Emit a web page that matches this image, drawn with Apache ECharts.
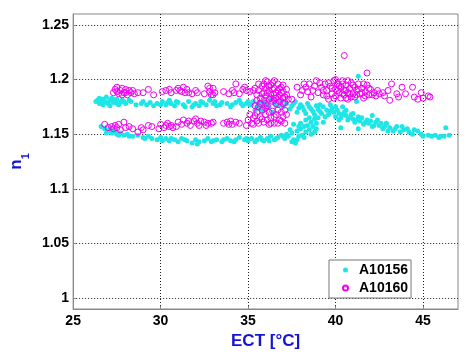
<!DOCTYPE html>
<html><head><meta charset="utf-8">
<script src="https://cdn.jsdelivr.net/npm/echarts@6/dist/echarts.min.js"></script>
<style>html,body{margin:0;padding:0;background:#fff}#c{width:474px;height:355px}</style>
</head><body><div id="c"></div>
<script>
const xTicks = [25, 30, 35, 40, 45];
const yTicks = [1, 1.05, 1.1, 1.15, 1.2, 1.25];
const seriesNames = ['A10156', 'A10160'];

const a10156 = [
 [26.4,1.181],[26.5,1.183],[26.6,1.179],[26.7,1.182],[26.8,1.18],[26.9,1.184],[27.0,1.178],[27.1,1.181],[27.2,1.183],[27.3,1.179],
 [27.4,1.18],[27.5,1.182],[27.6,1.177],[27.7,1.179],[27.8,1.181],[28.0,1.178],[28.3,1.18],[28.6,1.177],[28.9,1.178],[29.2,1.177],
 [29.4,1.179],[29.6,1.176],[29.8,1.178],[30.1,1.18],[30.3,1.177],[30.5,1.181],[30.6,1.178],[30.8,1.176],[31.0,1.179],[31.3,1.177],
 [31.6,1.18],[31.8,1.175],[32.0,1.178],[32.2,1.176],[32.4,1.179],[32.6,1.177],[32.8,1.181],[33.0,1.178],[33.2,1.176],[33.5,1.179],
 [33.8,1.178],[34.1,1.177],[34.3,1.179],[34.5,1.181],[34.7,1.176],[34.9,1.178],[35.1,1.177],[35.3,1.18],[35.5,1.175],[35.7,1.178],
 [35.9,1.18],[36.1,1.176],[36.3,1.182],[36.5,1.179],[36.8,1.177],[37.0,1.175],
 [26.3,1.18],[26.5,1.178],[26.7,1.177],[26.9,1.179],[27.1,1.176],[27.3,1.182],[27.5,1.178],[27.9,1.18],[28.2,1.181],[29.0,1.18],
 [30.0,1.177],[30.4,1.179],[30.9,1.18],[31.4,1.175],[31.9,1.177],[32.3,1.18],[33.1,1.18],[33.4,1.177],[34.0,1.175],[34.6,1.178],
 [35.0,1.18],[35.2,1.177],[35.6,1.179],[36.0,1.178],[36.6,1.176],[36.9,1.18],
 [37.2,1.178],[37.5,1.176],[37.7,1.18],[37.9,1.174],[38.0,1.177],[38.2,1.172],[38.4,1.178],[38.5,1.175],[38.7,1.171],[38.9,1.176],
 [39.0,1.173],[39.2,1.169],[39.3,1.175],[39.5,1.172],[39.6,1.168],[39.8,1.174],[39.9,1.17],[40.0,1.166],[40.1,1.172],[40.2,1.169],
 [40.3,1.165],[40.5,1.17],[40.6,1.167],[40.7,1.163],[40.9,1.168],[41.0,1.164],[41.1,1.161],[41.3,1.166],[41.4,1.162],[41.6,1.159],
 [41.8,1.163],[41.9,1.16],[42.1,1.157],[42.3,1.161],[42.5,1.158],[42.7,1.155],[42.9,1.159],[43.1,1.156],[43.3,1.153],[43.5,1.157],
 [43.7,1.152],[43.9,1.154],[44.2,1.152],[44.4,1.15],[44.7,1.153],[45.0,1.148],[45.3,1.149],[45.7,1.149],[46.0,1.148],[46.3,1.156],
 [46.5,1.149],[45.9,1.147],
 [37.4,1.173],[37.6,1.178],[37.8,1.17],[38.1,1.175],[38.3,1.169],[38.6,1.173],[38.8,1.168],[39.1,1.177],[39.1,1.171],[39.4,1.166],
 [39.7,1.171],[40.0,1.175],[40.2,1.163],[40.4,1.168],[40.6,1.172],[40.8,1.165],[41.0,1.169],[41.2,1.163],[41.5,1.165],[41.7,1.161],
 [42.0,1.162],[42.2,1.158],[42.4,1.163],[42.6,1.16],[42.8,1.157],[43.0,1.153],[43.4,1.155],[43.8,1.157],[44.1,1.155],[44.5,1.154],
 [44.9,1.15],[45.5,1.148],[46.2,1.148],
 [38.0,1.16],[38.3,1.163],[39.3,1.161],[40.3,1.156],[41.3,1.155],[41.2,1.18],[41.3,1.203],[42.1,1.167],[42.9,1.16],
 [37.3,1.148],[37.5,1.151],[37.6,1.145],[37.8,1.153],[37.7,1.142],[38.0,1.155],[38.1,1.149],[38.3,1.152],[38.4,1.158],[38.5,1.154],
 [38.6,1.161],[38.7,1.157],[38.8,1.152],[38.9,1.155],[38.2,1.147],[38.9,1.16],[38.5,1.165],[37.6,1.159],
 [37.4,1.154],[37.9,1.148],[38.2,1.157],[38.6,1.15],[38.8,1.164],[37.8,1.145],[37.5,1.143],[37.9,1.157],
 [26.6,1.157],[26.8,1.155],[27.0,1.153],[27.1,1.155],[27.2,1.151],[27.4,1.152],[27.5,1.15],[27.7,1.151],[27.9,1.149],[28.1,1.15],
 [28.4,1.148],[28.7,1.149],[29.0,1.147],[29.3,1.148],[29.5,1.146],[29.8,1.145],[30.0,1.147],[30.3,1.146],[30.5,1.144],[30.8,1.145],
 [31.0,1.143],[31.2,1.146],[31.5,1.144],[31.8,1.142],[32.0,1.145],[32.2,1.143],[32.5,1.144],[32.7,1.146],[33.0,1.144],[33.2,1.145],
 [33.5,1.143],[33.8,1.146],[34.0,1.144],[34.3,1.145],[34.5,1.147],[34.8,1.145],[35.0,1.144],[35.2,1.146],[35.5,1.145],[35.7,1.147],
 [35.9,1.144],[36.1,1.146],[36.3,1.148],[36.5,1.145],[36.7,1.147],[36.9,1.149],[37.1,1.146],[37.2,1.15],
 [26.9,1.151],[27.3,1.153],[27.6,1.149],[28.2,1.148],[29.1,1.146],[30.1,1.144],[30.6,1.146],[31.4,1.145],[32.1,1.141],[32.9,1.143],
 [33.6,1.145],[34.2,1.143],[34.9,1.146],[35.4,1.143],[35.8,1.145],[36.2,1.144],[36.6,1.146],[37.0,1.148],
 [35.4,1.172],[35.6,1.174],[35.8,1.171],[36.0,1.173],[36.2,1.175],[35.7,1.176],[36.4,1.17],[39.0,1.165],[39.7,1.177],[40.4,1.175]
];

const a10160 = [
 [27.3,1.188],[27.4,1.191],[27.5,1.193],[27.6,1.187],[27.7,1.19],[27.8,1.192],[27.9,1.188],[28.0,1.191],[28.1,1.186],[28.2,1.19],
 [28.3,1.188],[28.5,1.187],[28.7,1.188],[29.0,1.188],[29.3,1.191],[29.6,1.186],[30.1,1.189],[30.3,1.19],[30.6,1.188],[30.9,1.19],
 [31.0,1.192],[31.2,1.189],[31.3,1.193],[31.5,1.191],[31.6,1.188],[31.8,1.187],[32.1,1.188],[32.5,1.187],[32.7,1.194],[32.8,1.189],
 [32.9,1.186],[33.0,1.192],[33.1,1.188],[33.6,1.189],[33.9,1.187],[34.1,1.19],[34.3,1.196],[34.5,1.187],[34.7,1.191],[34.9,1.19],
 [35.1,1.189],[35.4,1.192],
 [27.5,1.189],[27.8,1.186],[28.0,1.188],[28.4,1.19],[30.5,1.191],[31.1,1.19],[31.4,1.188],[32.0,1.19],[32.8,1.192],[33.0,1.186],
 [34.2,1.188],[34.8,1.193],[35.3,1.19],
 [35.5,1.186],[35.6,1.19],[35.7,1.183],[35.8,1.194],[35.9,1.188],[36.0,1.192],[36.0,1.185],[36.1,1.198],[36.2,1.19],[36.2,1.182],
 [36.3,1.187],[36.3,1.195],[36.4,1.18],[36.5,1.192],[36.5,1.186],[36.6,1.183],[36.7,1.19],[36.7,1.196],[36.8,1.18],[36.8,1.186],
 [36.9,1.193],[37.0,1.183],[37.0,1.189],[37.1,1.179],[37.2,1.186],[36.4,1.197],[35.9,1.181],[36.6,1.178],[37.5,1.182],[37.8,1.193],
 [35.5,1.181],[35.6,1.196],[35.8,1.187],[35.9,1.196],[36.0,1.178],[36.1,1.188],[36.2,1.194],[36.3,1.183],[36.4,1.191],[36.5,1.199],
 [36.6,1.188],[36.7,1.184],[36.8,1.192],[36.9,1.188],[37.0,1.195],[37.1,1.184],[37.2,1.191],[37.3,1.182],[37.0,1.178],[36.5,1.181],
 [36.0,1.199],
 [38.0,1.186],[38.3,1.193],[38.5,1.196],[38.7,1.19],[38.9,1.199],[39.0,1.188],[38.6,1.184],[38.4,1.189],[38.1,1.19],
 [39.2,1.193],[39.3,1.186],[39.4,1.196],[39.5,1.19],[39.6,1.182],[39.7,1.194],[39.8,1.187],[39.9,1.199],[40.0,1.191],[40.0,1.185],
 [40.1,1.196],[40.2,1.188],[40.3,1.193],[40.3,1.183],[40.4,1.199],[40.5,1.19],[40.5,1.186],[40.6,1.195],[40.7,1.188],[40.7,1.182],
 [40.8,1.192],[40.9,1.197],[41.0,1.187],[41.1,1.193],[41.1,1.184],[41.2,1.19],[41.3,1.196],[41.4,1.187],[41.5,1.192],[41.6,1.183],
 [41.7,1.189],[41.8,1.195],[41.9,1.186],[42.0,1.191],[42.2,1.188],[42.3,1.185],[42.5,1.187],[40.5,1.222],[41.8,1.206],
 [38.2,1.196],[38.8,1.194],[39.1,1.197],[39.3,1.19],[39.5,1.185],[39.6,1.197],[39.8,1.192],[39.9,1.183],[40.1,1.19],[40.2,1.194],
 [40.4,1.187],[40.6,1.19],[40.6,1.183],[40.8,1.187],[40.9,1.184],[41.0,1.195],[41.2,1.186],[41.3,1.191],[41.5,1.188],[41.6,1.196],
 [41.7,1.185],[41.9,1.192],[42.1,1.186],[42.4,1.19],[42.7,1.188],[40.4,1.196],[40.0,1.2],[40.7,1.199],
 [42.8,1.185],[43.0,1.19],[43.1,1.181],[43.2,1.196],[43.5,1.187],[43.6,1.184],[43.8,1.193],[44.0,1.187],[44.4,1.193],[44.5,1.184],
 [44.7,1.182],[44.9,1.188],[45.0,1.183],[45.3,1.185],[45.4,1.184],
 [26.8,1.159],[27.0,1.156],[27.2,1.157],[27.3,1.155],[27.4,1.158],[27.5,1.156],[27.7,1.154],[27.9,1.161],[28.0,1.156],[28.4,1.155],
 [28.7,1.152],[28.9,1.156],[29.0,1.154],[29.3,1.158],[29.5,1.157],[29.9,1.155],[30.0,1.159],[30.2,1.156],[30.4,1.16],[30.5,1.157],
 [30.6,1.158],[30.7,1.156],[31.0,1.161],[31.2,1.159],[31.3,1.163],[31.5,1.16],[31.7,1.158],[31.9,1.162],[32.0,1.164],[32.1,1.16],
 [32.3,1.162],[32.5,1.161],[32.6,1.158],[32.9,1.16],[33.0,1.161],[33.6,1.16],[33.8,1.161],[34.0,1.162],[34.1,1.159],[34.5,1.16],
 [27.6,1.159],[28.2,1.157],[30.3,1.158],[30.9,1.157],[31.6,1.162],[32.2,1.158],[32.7,1.16],[33.9,1.159],[34.3,1.161],
 [35.0,1.163],[35.2,1.16],[35.3,1.165],[35.5,1.17],[35.5,1.162],[35.6,1.175],[35.7,1.166],[35.8,1.172],[35.9,1.161],[36.0,1.168],
 [36.1,1.176],[36.1,1.163],[36.3,1.165],[36.4,1.171],[36.5,1.16],[36.6,1.168],[36.8,1.163],[36.9,1.17],[37.0,1.166],[37.1,1.16],
 [37.2,1.168],[34.9,1.158],[35.4,1.176],[36.2,1.159],
 [35.1,1.168],[35.4,1.167],[35.6,1.16],[35.7,1.178],[35.8,1.164],[36.0,1.174],[36.2,1.17],[36.3,1.16],[36.5,1.166],[36.7,1.172],
 [36.9,1.162],[37.1,1.172],[35.3,1.159],[36.7,1.16]
];

const chart = echarts.init(document.getElementById('c'), null, {renderer: 'canvas'});
const tickFont = {fontFamily: 'Liberation Sans', fontWeight: 'bold', fontSize: 14, color: '#000'};
const gridLine = {show: true, lineStyle: {color: '#222', width: 1, type: [1, 2]}};
chart.setOption({
  backgroundColor: '#fff',
  animation: false,
  grid: {left: 54, right: 16, top: 14, bottom: 40, show: true, borderColor: '#888', borderWidth: 1, backgroundColor: '#fff'},
  legend: {
    orient: 'vertical', left: 329, top: 260,
    backgroundColor: '#fff', borderColor: '#777', borderWidth: 1,
    padding: [3, 3, 3, 13], itemGap: 4, itemWidth: 5, itemHeight: 5,
    textStyle: {fontFamily: 'Liberation Sans', fontWeight: 'bold', fontSize: 14, color: '#000', padding: [0, 0, 0, 6]},
    data: seriesNames
  },
  xAxis: {
    type: 'value', min: 25, max: 47,
    name: 'ECT [°C]', nameLocation: 'middle', nameGap: 24,
    nameTextStyle: {fontFamily: 'Liberation Sans', fontWeight: 'bold', fontSize: 17, color: '#1414d2'},
    axisLine: {show: true, lineStyle: {color: '#888'}},
    axisTick: {show: true, inside: true, length: 3, customValues: xTicks, lineStyle: {color: '#888'}},
    axisLabel: Object.assign({customValues: xTicks, margin: 5}, tickFont),
    splitLine: gridLine
  },
  yAxis: {
    type: 'value', min: 0.99, max: 1.26,
    name: '{a|n}{b|1}', nameLocation: 'middle', nameGap: 36,
    nameTextStyle: {rich: {
      a: {fontFamily: 'Liberation Sans', fontWeight: 'bold', fontSize: 17, color: '#1414d2'},
      b: {fontFamily: 'Liberation Sans', fontWeight: 'bold', fontSize: 11, color: '#1414d2', verticalAlign: 'bottom', padding: [0,0,-6,0]}
    }},
    axisLine: {show: true, lineStyle: {color: '#888'}},
    axisTick: {show: true, inside: true, length: 3, customValues: yTicks, lineStyle: {color: '#888'}},
    axisLabel: Object.assign({customValues: yTicks, margin: 4, formatter: v => String(+(+v).toFixed(2))}, tickFont),
    splitLine: gridLine
  },
  series: [
    {name: seriesNames[0], type: 'scatter', data: a10156, symbol: 'circle', symbolSize: 5,
     itemStyle: {color: '#1ee6e6', opacity: 1}, z: 2},
    {name: seriesNames[1], type: 'scatter', data: a10160, symbol: 'circle', symbolSize: 6,
     itemStyle: {color: 'rgba(255,255,255,0)', borderColor: '#f000f0', borderWidth: 1, opacity: 1}, z: 3}
  ]
});
</script></body></html>
